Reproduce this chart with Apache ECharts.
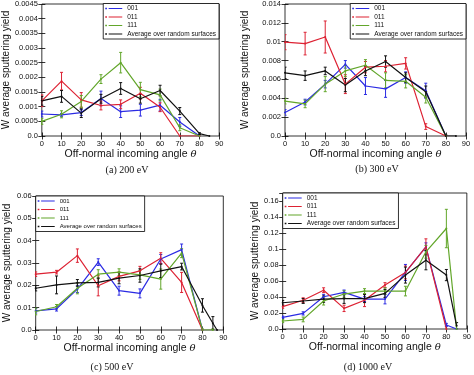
<!DOCTYPE html>
<html>
<head>
<meta charset="utf-8">
<script src="https://cdn.jsdelivr.net/npm/echarts@6/dist/echarts.min.js"></script>
<style>
    html, body { margin: 0; padding: 0; background: #fff; }
    #chart { width: 474px; height: 375px; }
</style>
</head>
<body>
<div id="chart"></div>
<script>
    // incoming angles (deg)
    var angles = [0, 10, 20, 30, 40, 50, 60, 70, 80];
    var angles85 = [0, 10, 20, 30, 40, 50, 60, 70, 80, 85];
    var angles87 = [0, 10, 20, 30, 40, 50, 60, 70, 80, 85, 87];

    var seriesNames = ['001', '011', '111', 'Average over random surfaces'];
    var captions = ['(a) 200 eV', '(b) 300 eV', '(c) 500 eV', '(d) 1000 eV'];
    var yMax = [0.0045, 0.014, 0.06, 0.17];
    var yStep = [0.0005, 0.002, 0.01, 0.02];

    // (a) 200 eV
    var a001 = [0.00075, 0.00072, 0.0008, 0.00128, 0.00083, 0.00088, 0.00105, 0.00048, 0];
    var a001Err = [0.0001, 0.00005, 0.0001, 0.00025, 0.0002, 0.0002, 0.0002, 0.00015, 0];
    var a011 = [0.0012, 0.00187, 0.00123, 0.00104, 0.00108, 0.00146, 0.00098, 0, 0];
    var a011Err = [0.0002, 0.0003, 0.00025, 0.00015, 0.00015, 0.0002, 0.00015, 0, 0];
    var a111 = [0.0005, 0.00074, 0.00118, 0.00194, 0.0025, 0.00158, 0.0014, 0.00028, 0];
    var a111Err = [0.0001, 0.00012, 0.0002, 0.00015, 0.00035, 0.00025, 0.0002, 0.0001, 0];
    var aAvg = [0.0012, 0.00135, 0.00078, 0.00127, 0.00162, 0.00127, 0.00155, 0.00085, 0.00008, 0];
    var aAvgErr = [0.00015, 0.0002, 0.00015, 0.00015, 0.0002, 0.00015, 0.00018, 0.00012, 0.00003, 0];

    // (b) 300 eV
    var b001 = [0.0025, 0.0036, 0.0055, 0.0076, 0.0053, 0.005, 0.0062, 0.0048, 0];
    var b001Err = [0.0003, 0.0003, 0.0004, 0.0004, 0.0009, 0.0009, 0.0006, 0.0008, 0];
    var b011 = [0.00995, 0.0098, 0.0105, 0.0055, 0.0073, 0.0074, 0.0077, 0.001, 0];
    var b011Err = [0.0008, 0.0012, 0.0017, 0.001, 0.0006, 0.0006, 0.0006, 0.0003, 0];
    var b111 = [0.0037, 0.0034, 0.0055, 0.0069, 0.0075, 0.0059, 0.0058, 0.0041, 0];
    var b111Err = [0.0003, 0.0004, 0.0008, 0.0006, 0.0006, 0.0008, 0.0007, 0.0006, 0];
    var bAvg = [0.0067, 0.0064, 0.0069, 0.0054, 0.0069, 0.0079, 0.0062, 0.0047, 0, 0];
    var bAvgErr = [0.0006, 0.0005, 0.0004, 0.0007, 0.0005, 0.0006, 0.0005, 0.0006, 0.0001, 0];

    // (c) 500 eV
    var c001 = [0.0086, 0.0095, 0.0183, 0.0304, 0.0176, 0.0164, 0.0318, 0.036, 0];
    var c001Err = [0.001, 0.001, 0.0015, 0.0015, 0.002, 0.002, 0.002, 0.0025, 0];
    var c011 = [0.025, 0.0259, 0.0333, 0.0198, 0.024, 0.0265, 0.0321, 0.0213, 0];
    var c011Err = [0.001, 0.0008, 0.003, 0.0045, 0.002, 0.002, 0.0025, 0.0045, 0];
    var c111 = [0.0083, 0.0104, 0.0187, 0.025, 0.0259, 0.0247, 0.0228, 0.0344, 0, 0];
    var c111Err = [0.0015, 0.001, 0.0025, 0.002, 0.0015, 0.002, 0.0045, 0.002, 0.0005, 0.0005];
    var cAvg = [0.0187, 0.0202, 0.0211, 0.0213, 0.0232, 0.0244, 0.0265, 0.0284, 0.011, 0.003, 0];
    var cAvgErr = [0.0012, 0.004, 0.0015, 0.002, 0.0025, 0.003, 0.003, 0.0015, 0.003, 0.003, 0];

    // (d) 1000 eV
    var d001 = [0.0146, 0.0195, 0.0403, 0.0457, 0.0374, 0.0374, 0.0707, 0.1027, 0.005, 0];
    var d001Err = [0.0015, 0.002, 0.003, 0.003, 0.003, 0.006, 0.01, 0.005, 0.002, 0];
    var d011 = [0.0279, 0.036, 0.0485, 0.0258, 0.036, 0.0549, 0.0707, 0.1027, 0];
    var d011Err = [0.002, 0.003, 0.003, 0.004, 0.008, 0.003, 0.008, 0.01, 0];
    var d111 = [0.01, 0.012, 0.035, 0.0437, 0.0474, 0.0474, 0.0474, 0.0965, 0.1256, 0];
    var d111Err = [0.002, 0.003, 0.005, 0.004, 0.003, 0.004, 0.006, 0.008, 0.024, 0];
    var dAvg = [0.0328, 0.035, 0.0374, 0.038, 0.038, 0.0445, 0.0674, 0.086, 0.0674, 0.004];
    var dAvgErr = [0.003, 0.003, 0.004, 0.006, 0.005, 0.005, 0.01, 0.012, 0.007, 0.004];

    var panelData = [
        [[angles, a001, a001Err], [angles, a011, a011Err], [angles, a111, a111Err], [angles85, aAvg, aAvgErr]],
        [[angles, b001, b001Err], [angles, b011, b011Err], [angles, b111, b111Err], [angles85, bAvg, bAvgErr]],
        [[angles, c001, c001Err], [angles, c011, c011Err], [angles85, c111, c111Err], [angles87, cAvg, cAvgErr]],
        [[angles85, d001, d001Err], [angles, d011, d011Err], [angles85, d111, d111Err], [angles85, dAvg, dAvgErr]]
    ];

    var colors = ['#2b2be3', '#dd2233', '#62a62a', '#111111'];
    var font = 'Liberation Sans';

    // layout of the four panels
    var grids = [
        {left: 38.7, top: 3.5, width: 180.5, height: 132.5},
        {left: 285, top: 3.5, width: 181, height: 132.5},
        {left: 35.7, top: 196, width: 187.6, height: 134},
        {left: 282.7, top: 193, width: 184.3, height: 136}
    ];
    var yNameGap = [27, 35, 23, 22.5];
    var legendPos = [
        {right: 255, top: 3.5},
        {right: 8, top: 3.5},
        {left: 35.7, top: 196},
        {left: 282.7, top: 193}
    ];
    var legendFont = [6.5, 6.5, 6, 6.5];
    var captionPos = [[127, 165], [377, 164], [112, 362], [368, 362]];

    function yFmt(v) {
        return v === 0 ? '0.0' : String(+v.toPrecision(4));
    }

    function errRender(params, api) {
        var x = api.value(0), y = api.value(1), e = api.value(2);
        if (!e) return null;
        var p1 = api.coord([x, y + e]);
        var p2 = api.coord([x, y - e]);
        var st = {stroke: api.visual('color'), lineWidth: 1};
        return {
            type: 'group',
            children: [
                {type: 'line', shape: {x1: p1[0], y1: p1[1], x2: p2[0], y2: p2[1]}, style: st},
                {type: 'line', shape: {x1: p1[0] - 1.5, y1: p1[1], x2: p1[0] + 1.5, y2: p1[1]}, style: st},
                {type: 'line', shape: {x1: p2[0] - 1.5, y1: p2[1], x2: p2[0] + 1.5, y2: p2[1]}, style: st}
            ]
        };
    }

    var option = {
        animation: false,
        backgroundColor: '#fff',
        grid: [], xAxis: [], yAxis: [], series: [], legend: [], title: []
    };

    for (var p = 0; p < 4; p++) {
        var g = grids[p];
        option.grid.push({
            left: g.left, top: g.top, width: g.width, height: g.height,
            show: true, borderColor: '#000', borderWidth: 0.8, backgroundColor: 'transparent'
        });

        var tick = {show: true, inside: true, length: 3.5, lineStyle: {color: '#000', width: 0.8}};
        option.xAxis.push({
            type: 'value', gridIndex: p, min: 0, max: 90, interval: 10,
            name: 'Off-normal incoming angle {t|θ}', nameLocation: 'middle', nameGap: 11,
            nameTextStyle: {fontFamily: font, fontSize: 10.5, color: '#111',
                rich: {t: {fontFamily: 'DejaVu Serif', fontStyle: 'italic', fontSize: 10, color: '#111'}}},
            axisLine: {show: false}, axisTick: tick, splitLine: {show: false},
            axisLabel: {fontFamily: font, fontSize: 7.5, color: '#111', margin: 4}
        });
        option.xAxis.push({
            type: 'value', gridIndex: p, position: 'top', min: 0, max: 90, interval: 10,
            axisLine: {show: false}, axisTick: tick, splitLine: {show: false}, axisLabel: {show: false}
        });
        option.yAxis.push({
            type: 'value', gridIndex: p, min: 0, max: yMax[p], interval: yStep[p],
            name: 'W average sputtering yield', nameLocation: 'middle', nameGap: yNameGap[p],
            nameTextStyle: {fontFamily: font, fontSize: 10, color: '#111'},
            axisLine: {show: false}, axisTick: tick, splitLine: {show: false},
            axisLabel: {fontFamily: font, fontSize: 7.5, color: '#111', margin: 4, formatter: yFmt, showMaxLabel: p !== 3}
        });
        option.yAxis.push({
            type: 'value', gridIndex: p, position: 'right', min: 0, max: yMax[p], interval: yStep[p],
            axisLine: {show: false}, axisTick: tick, splitLine: {show: false}, axisLabel: {show: false}
        });

        for (var s = 0; s < 4; s++) {
            var d = panelData[p][s];
            var pts = d[0].map(function (a, i) { return [a, d[1][i]]; });
            var errPts = d[0].map(function (a, i) { return [a, d[1][i], d[2][i]]; });
            option.series.push({
                type: 'line', name: seriesNames[s], xAxisIndex: p * 2, yAxisIndex: p * 2,
                data: pts, symbol: 'circle', symbolSize: 2, z: 3,
                itemStyle: {color: colors[s]}, lineStyle: {color: colors[s], width: 1.2}
            });
            option.series.push({
                type: 'custom', name: seriesNames[s] + ' err', xAxisIndex: p * 2, yAxisIndex: p * 2,
                data: errPts, renderItem: errRender, clip: true, z: 2,
                itemStyle: {color: colors[s]}
            });
        }

        var lg = {
            orient: 'vertical', data: seriesNames, selectedMode: false,
            backgroundColor: '#fff', borderColor: '#000', borderWidth: 0.8, borderRadius: 0,
            padding: [1, 3, 1, 2], itemGap: 0.5, itemWidth: 17, itemHeight: 4,
            icon: 'path://M0,0h2v2h-2z M4,0.5h16v1h-16z',
            textStyle: {fontFamily: font, fontSize: legendFont[p], color: '#111', lineHeight: 8}
        };
        for (var k in legendPos[p]) lg[k] = legendPos[p][k];
        option.legend.push(lg);

        option.title.push({
            text: captions[p], left: captionPos[p][0], top: captionPos[p][1], textAlign: 'center',
            padding: 0,
            textStyle: {fontFamily: 'Liberation Serif', fontSize: 10, fontWeight: 'normal', color: '#111'}
        });
    }

    var chart = echarts.init(document.getElementById('chart'), null, {renderer: 'canvas'});
    chart.setOption(option);
</script>
</body>
</html>
